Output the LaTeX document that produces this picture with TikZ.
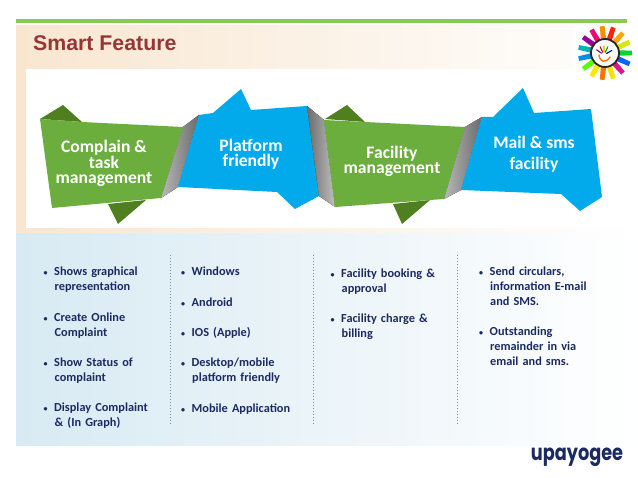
\documentclass[tikz,border=0pt]{standalone}
\usepackage{fontspec}
\setmainfont{Carlito}
\newfontfamily\titlefont{Liberation Sans}
\newfontfamily\brandfont{Poppins}
\usetikzlibrary{positioning}
\definecolor{panelgreen}{HTML}{6BAE3E}
\definecolor{foldgreen}{HTML}{4F7F1E}
\definecolor{panelblue}{HTML}{02AAEC}
\definecolor{inknavy}{HTML}{1C2A62}
\definecolor{sandtint}{HTML}{F8E6D0}
\definecolor{icetint}{HTML}{D8EAF3}
\definecolor{toprule}{HTML}{8CC856}
\definecolor{titlered}{HTML}{953735}
\tikzset{
  greenpart/.style={fill=panelgreen},
  foldpart/.style={fill=foldgreen},
  bluepart/.style={fill=panelblue},
  greypart/.style={left color=black!28, right color=black!58},
  greypartback/.style={left color=black!58, right color=black!25},
  headlabel/.style={text=white, align=center, inner sep=0pt, font=\fontsize{17.6}{15}\selectfont\bfseries},
  itembox/.style={text=inknavy, inner sep=0pt, text width=118pt, align=left, anchor=north west,
    font=\fontsize{12.3}{15}\selectfont\bfseries},
  divider/.style={dash pattern=on 1.5pt off 1.5pt, line width=0.6pt, draw=black!45}
}
\newcommand{\bitem}[1]{\strut\makebox[10.5pt][l]{\fontsize{8}{15}\selectfont\textbullet}#1\strut}
\newcommand{\nl}{\\\strut\hspace*{11pt}}
\begin{document}
\begin{tikzpicture}[x=1pt, y=-1pt, node distance=15pt]
\useasboundingbox (0,0) rectangle (638,478);

% Bands behind everything
\fill[white] (0,0) rectangle (638,478);
\fill[left color=sandtint, right color=white] (16,26) rectangle (638,233);
\fill[white] (26,69) rectangle (638,228);
\fill[left color=icetint, right color=white] (16,234) rectangle (638,446);
\fill[toprule] (16,19.5) rectangle (627,23.5);
\node[font=\titlefont\fontsize{21.3}{24}\selectfont\bfseries, text=titlered, inner sep=0pt, anchor=base west] (title) at (33,51) {Smart Feature};

% Folded ribbon, left pair
\fill[foldpart] (40,119) -- (63,105) -- (82,122) -- cycle;
\fill[foldpart] (108,204) -- (118,224) -- (146,200) -- cycle;
\fill[greypart] (183,127) -- (199,115) -- (178,187) -- (161,198) -- cycle;
\fill[greenpart] (40,119) -- (82,122) -- (183,127) -- (161,198) -- (52,208) -- cycle;
\fill[bluepart] (199,115) -- (213,113) -- (241,89) -- (251,110) -- (307,106) -- (319,196) -- (295,209) -- (277,192) -- (178,187) -- cycle;
\fill[greypartback] (307,106) -- (324,120) -- (335,207) -- (319,196) -- cycle;

% Folded ribbon, right pair
\fill[foldpart] (325,119) -- (347,105) -- (365,122) -- cycle;
\fill[foldpart] (393,204) -- (402,224) -- (430,200) -- cycle;
\fill[greypart] (465,127) -- (482,117) -- (461,190) -- (444,199) -- cycle;
\fill[greenpart] (324,120) -- (365,122) -- (465,127) -- (444,199) -- (335,207) -- cycle;
\fill[bluepart] (482,117) -- (493,117) -- (523,88) -- (534,113) -- (591,109) -- (602,197) -- (580,211) -- (561,194) -- (461,190) -- cycle;

% Ribbon labels
\node[headlabel] (complain) at (104,163) {Complain \&\\task\\management};
\node[headlabel] (platform) at (251,154) {Platform\\friendly};
\node[headlabel] (facility) at (392,161) {Facility\\management};
\node[headlabel, font=\fontsize{17.6}{21}\selectfont\bfseries] (mail) at (534,154) {Mail \& sms\\facility};

% Column dividers
\coordinate (d1a) at (170,255); \coordinate (d1b) at (170,426);
\coordinate (d2a) at (313.5,255); \coordinate (d2b) at (313.5,426);
\coordinate (d3a) at (457.5,255); \coordinate (d3b) at (457.5,426);
\draw[divider] (d1a) -- (d1b);
\draw[divider] (d2a) -- (d2b);
\draw[divider] (d3a) -- (d3b);

% First column
\node[itembox] (shows) at (43.5,265) {\bitem{Shows graphical\nl representation}};
\node[itembox, below=of shows] (create) {\bitem{Create Online\nl Complaint}};
\node[itembox, below=of create] (status) {\bitem{Show Status of\nl complaint}};
\node[itembox, below=of status] (display) {\bitem{Display Complaint\nl \&~(In Graph)}};

% Second column
\node[itembox] (windows) at (181,265) {\bitem{Windows}};
\node[itembox, below=of windows] (android) {\bitem{Android}};
\node[itembox, below=of android] (ios) {\bitem{IOS (Apple)}};
\node[itembox, below=of ios] (desktop) {\bitem{Desktop/mobile\nl platform friendly}};
\node[itembox, below=of desktop] (mobile) {\bitem{Mobile Application}};

% Third column
\node[itembox] (booking) at (330.5,266.5) {\bitem{Facility booking \&\nl approval}};
\node[itembox, below=of booking] (charge) {\bitem{Facility charge \&\nl billing}};

% Fourth column
\node[itembox] (send) at (479,264.5) {\bitem{Send circulars,\nl information E-mail\nl and SMS.}};
\node[itembox, below=of send] (outstanding) {\bitem{Outstanding\nl remainder in via\nl email and sms.}};

% Brand name
\node[text=inknavy, inner sep=0pt, anchor=base, font=\brandfont\fontsize{17.7}{22}\selectfont\bfseries] (brand) at (577,461) {\scalebox{1}[1.25]{upayogee}};

% Round badge
\fill[white] (574,26) rectangle (638,80);
\foreach \ang/\col in {0/green!70!teal, 24/blue!60!cyan, 48/magenta!80!violet, 72/yellow!85!orange, 96/orange!90!red, 120/yellow!90!orange, 144/green!65!yellow, 168/cyan!75!blue, 192/teal!60!cyan, 216/violet!80!magenta, 240/magenta!80!red, 264/orange!90!yellow, 288/red!70!orange, 312/orange!70!yellow, 336/yellow!85!green}
  \fill[\col, shift={(605,53)}] (\ang-11:14) -- (\ang-5:27) -- (\ang+5:27) -- (\ang+11:14) -- cycle;
\fill[white] (605,53) circle (14);
\draw[black!85, line width=1.8pt] (605,53) circle (14);
\draw[orange!90!red, line width=1.4pt, line cap=round] (599,55) .. controls (600,63) and (606,63) .. (610,57);
\foreach \ang/\col in {215/violet, 245/red!80!black, 270/yellow!85!black, 295/green!60!black, 330/blue!70!black}
  \draw[\col, line width=1.1pt, line cap=round, shift={(604,55)}] (\ang:3) -- (\ang:9);
\end{tikzpicture}
\end{document}
